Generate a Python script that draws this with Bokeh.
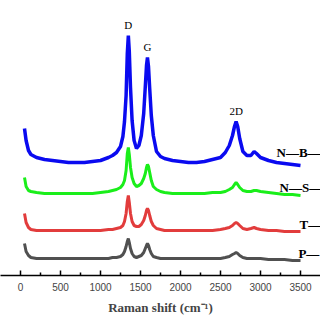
from bokeh.plotting import figure
from bokeh.models import FixedTicker
from bokeh.core.properties import value
from bokeh.embed import file_html
from bokeh.resources import INLINE

# Raman shift (cm^-1)
shift = [50, 70, 100, 130, 200, 300, 400, 500, 600, 700, 800, 900, 1000, 1100, 1150,
         1200, 1250, 1280, 1300, 1320, 1335, 1348, 1360, 1375, 1395, 1420, 1450, 1480,
         1510, 1540, 1560, 1575, 1587, 1600, 1615, 1635, 1660, 1700, 1750, 1800, 1900,
         2000, 2100, 2200, 2300, 2400, 2500, 2560, 2610, 2650, 2675, 2695, 2715, 2740,
         2780, 2830, 2880, 2920, 2950, 3000, 3100, 3200, 3300, 3400, 3500]

# Intensity (a.u., stacked)
nb = [147, 135, 125, 121, 118, 116, 115, 114, 113, 113, 113, 114, 115, 118, 120,
      123, 129, 139, 154, 180, 222, 240, 224, 188, 155, 135, 127, 130,
      140, 162, 189, 210, 218, 209, 187, 160, 140, 124, 119, 117, 115,
      114, 113, 113, 114, 116, 118, 123, 130, 140, 149, 154, 149, 137,
      124, 120, 120, 124, 122, 118, 115, 113, 112, 111, 110]
ns = [98, 89, 85, 84, 83, 82, 82, 82, 82, 82, 82, 82, 83, 84, 85,
      86, 88, 91, 95, 105, 122, 128, 121, 108, 98, 92, 89, 90,
      92, 97, 102, 108, 111, 109, 103, 95, 89, 86, 84, 83, 82,
      82, 82, 82, 82, 83, 83, 84, 86, 88, 91, 93, 91, 88,
      85, 84, 84, 85, 85, 84, 83, 82, 81, 81, 80]
t = [62, 53, 48, 46, 45, 45, 45, 45, 45, 45, 45, 45, 45, 46, 46,
     47, 48, 50, 54, 62, 74, 80, 73, 62, 54, 50, 49, 49,
     51, 55, 60, 65, 67, 65, 60, 54, 50, 47, 46, 45, 45,
     45, 45, 45, 45, 45, 46, 47, 48, 50, 52, 53, 52, 50,
     47, 46, 47, 48, 47, 46, 45, 45, 44, 44, 44]
pp = [32, 24, 20, 18, 17, 17, 17, 17, 17, 17, 17, 17, 17, 17, 18,
      18, 19, 21, 24, 29, 34, 37, 33, 27, 22, 19, 18, 19,
      20, 23, 27, 30, 32, 30, 26, 22, 19, 18, 17, 17, 17,
      17, 17, 17, 17, 17, 17, 18, 19, 21, 22, 23, 22, 20,
      18, 17, 17, 17, 17, 17, 16, 16, 16, 15, 15]

series_names = ["N\u2014B\u2014", "N\u2014S\u2014", "T\u2014", "P\u2014"]
series_vals = [nb, ns, t, pp]
series_colors = ["#0a0af0", "#1aee1a", "#e23c3c", "#505050"]

peak_labels = ["D", "G", "2D"]
peak_pos = [1348, 1587, 2695]

major_ticks = [0, 500, 1000, 1500, 2000, 2500, 3000, 3500]
minor_ticks = [250, 750, 1250, 1750, 2250, 2750, 3250]

p = figure(width=320, height=320, x_range=(-250, 3750), y_range=(0, 275),
           output_backend="svg", toolbar_location=None, y_axis_location=None,
           min_border_left=0, min_border_right=0, min_border_top=0,
           min_border_bottom=45)
p.outline_line_color = None
p.grid.visible = False
p.background_fill_color = "white"
p.border_fill_color = "white"

widths = [3.5, 3, 3, 3]
for vals, col, w in zip(series_vals, series_colors, widths):
    p.line(shift, vals, line_color=col, line_width=w)

# series labels at right
lab_x = [3200, 3238, 3487, 3474]
lab_y = [123, 88, 51, 22]
p.text(x=lab_x, y=lab_y, text=series_names, text_font=value("Liberation Serif"),
       text_font_style="bold", text_font_size="13px", text_baseline="middle",
       text_align="left", text_color="black")

# peak labels above blue spectrum peaks
pk_y = [nb[shift.index(x)] + 5 for x in peak_pos]
p.text(x=peak_pos, y=pk_y, text=peak_labels, text_font=value("Liberation Serif"),
       text_font_size="11px", text_baseline="bottom", text_align="center",
       text_color="black")

ax = p.xaxis[0]
ax.ticker = FixedTicker(ticks=major_ticks, minor_ticks=minor_ticks)
ax.axis_label = "Raman shift (cm\u207b\u00b9)"
ax.axis_label_text_font = "Liberation Serif"
ax.axis_label_text_font_style = "bold"
ax.axis_label_text_font_size = "13px"
ax.axis_label_standoff = 6
ax.major_label_text_font = "Liberation Sans"
ax.major_label_text_font_size = "10px"
ax.major_label_standoff = 7
ax.major_tick_in = 5
ax.major_tick_out = 0
ax.minor_tick_in = 3
ax.minor_tick_out = 0
ax.axis_line_width = 1.5
ax.major_tick_line_width = 1.5
ax.minor_tick_line_width = 1.5

open("out.html", "w").write(file_html(p, INLINE))
